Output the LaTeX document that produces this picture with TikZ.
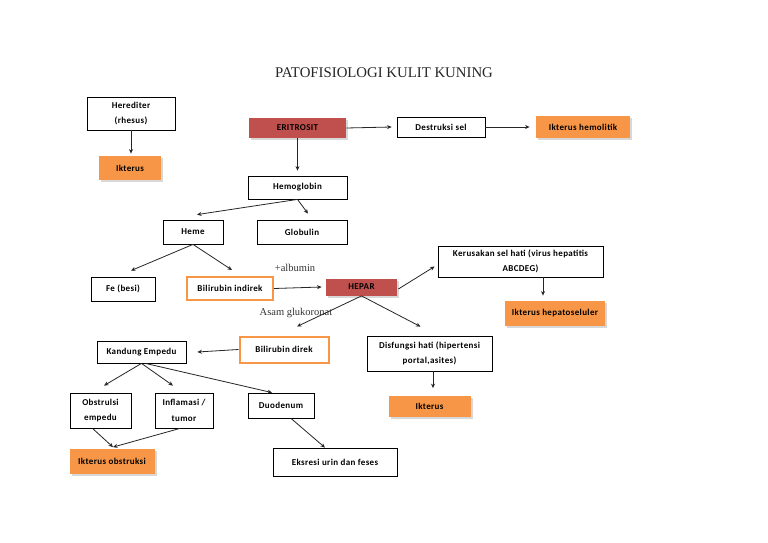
\documentclass[tikz,border=0pt]{standalone}
\usepackage{fontspec}
\setmainfont{Liberation Serif}
\newfontfamily\boxfont[LetterSpace=4]{Carlito}
\usetikzlibrary{arrows.meta,calc,shadows}
\definecolor{orangeF}{HTML}{F79646}
\definecolor{redF}{HTML}{C0504D}
\begin{document}
\begin{tikzpicture}[x=1pt,y=-1pt,
  box/.style={draw=black, line width=0.8pt, fill=white, align=center, inner sep=0pt,
    font=\boxfont\bfseries\fontsize{9}{15.5}\selectfont},
  obox/.style={box, draw=none, fill=orangeF,
    drop shadow={shadow xshift=2pt, shadow yshift=-2pt, fill=black!25, opacity=0.6}},
  rbox/.style={box, draw=none, fill=redF,
    drop shadow={shadow xshift=2pt, shadow yshift=-2pt, fill=black!25, opacity=0.6}},
  olbox/.style={box, draw=orangeF, line width=2pt},
  arr/.style={-{Stealth[length=4.5pt,width=4pt]}, line width=0.8pt, draw=black!85},
  lbl/.style={font=\fontsize{10.5}{12}\selectfont, text=black!80, inner sep=0pt}]
\useasboundingbox (0,0) rectangle (768,543);
\fill[white] (0,0) rectangle (768,543);

\node[font=\fontsize{14.8}{17}\selectfont, text=black!85] (title) at (384,73) {PATOFISIOLOGI KULIT KUNING};

% nodes
\node[box, minimum width=88, minimum height=33] (hered) at (131,113.5) {Herediter\\(rhesus)};
\node[obox, minimum width=62, minimum height=24] (ikt1) at (130,168) {Ikterus};
\node[rbox, minimum width=97, minimum height=20] (erit) at (297.5,128) {ERITROSIT};
\node[box, minimum width=88, minimum height=20] (destr) at (441,127) {Destruksi sel};
\node[obox, minimum width=94, minimum height=22] (ikthem) at (583,127) {Ikterus hemolitik};
\node[box, minimum width=99, minimum height=23] (hemo) at (297.5,187.5) {Hemoglobin};
\node[box, minimum width=60, minimum height=24] (heme) at (193,232) {Heme};
\node[box, minimum width=90, minimum height=24] (glob) at (302,232) {Globulin};
\node[box, minimum width=64, minimum height=24] (fe) at (123,289) {Fe (besi)};
\node[olbox, minimum width=86, minimum height=23] (bilind) at (230,288.5) {Bilirubin indirek};
\node[rbox, minimum width=71, minimum height=17] (hepar) at (361.5,287) {HEPAR};
\node[box, minimum width=165, minimum height=31] (kerus) at (520.5,261.5) {Kerusakan sel hati (virus hepatitis\\ABCDEG)};
\node[obox, minimum width=100, minimum height=25] (ikthep) at (555,313.5) {Ikterus hepatoseluler};
\node[olbox, minimum width=89, minimum height=26] (bildir) at (284,349.5) {Bilirubin direk};
\node[box, minimum width=89, minimum height=22] (kand) at (141.5,352) {Kandung Empedu};
\node[box, minimum width=125, minimum height=35] (disf) at (429.5,353.5) {Disfungsi hati (hipertensi\\portal,asites)};
\node[obox, minimum width=82, minimum height=21] (ikt3) at (429.5,406) {Ikterus};
\node[box, minimum width=61, minimum height=35] (obstr) at (100.5,410.5) {Obstrulsi\\empedu};
\node[box, minimum width=58, minimum height=35] (infl) at (184,410.5) {Inflamasi /\\tumor};
\node[box, minimum width=66, minimum height=25] (duod) at (281,405.5) {Duodenum};
\node[obox, minimum width=85, minimum height=25] (iktobs) at (112,461) {Ikterus obstruksi};
\node[box, minimum width=124, minimum height=28] (eks) at (335,462) {Eksresi urin dan feses};

\node[lbl] (alb) at (295,268) {+albumin};
\node[lbl] (asam) at (296,313) {Asam glukoronat};

% connectors
\draw[arr] (hered.south) -- ($(ikt1.north)+(1,-2)$);
\draw[arr] (erit.east) -- ($(destr.west)+(-5,0)$);
\draw[arr] (destr.east) -- ($(ikthem.west)+(-6,0)$);
\draw[arr] (erit.south) -- ($(hemo.north)+(0,-5)$);
\draw[arr] (hemo.south) -- ($(heme.north)+(4,-5)$);
\draw[arr] (hemo.south) -- ($(glob.north)+(6,-6)$);
\draw[arr] (heme.south) -- ($(fe.north)+(8,-6)$);
\draw[arr] (heme.south) -- ($(bilind.north)+(2,-6)$);
\draw[arr] (bilind.east) -- ($(hepar.west)+(-4,0)$);
\draw[arr] ($(hepar.east)+(1,2)$) -- ($(kerus.west)+(-3,5)$);
\draw[arr] (hepar.south) -- ($(bildir.north)+(13,-9)$);
\draw[arr] (hepar.south) -- ($(disf.north)+(-9,-9)$);
\draw[arr] (bildir.west) -- ($(kand.east)+(11,0)$);
\draw[arr] ($(kerus.south)+(22.5,0)$) -- ($(ikthep.north)+(-12,-5)$);
\draw[arr] ($(disf.south)+(3.5,0)$) -- ($(ikt3.north)+(3.5,-7)$);
\draw[arr] (kand.south) -- ($(obstr.north)+(3.5,-7)$);
\draw[arr] (kand.south) -- ($(infl.north)+(-11,-7)$);
\draw[arr] ($(kand.south)+(4,0)$) -- ($(duod.north)+(-9,0)$);
\draw[arr] ($(obstr.south)+(-8,0)$) -- ($(iktobs.north)+(1,-1)$);
\draw[arr] ($(infl.south)+(-4,0)$) -- ($(iktobs.north)+(1,-1)$);
\draw[arr] ($(duod.south)+(10,0)$) -- ($(eks.north)+(-10,0)$);
\end{tikzpicture}
\end{document}
